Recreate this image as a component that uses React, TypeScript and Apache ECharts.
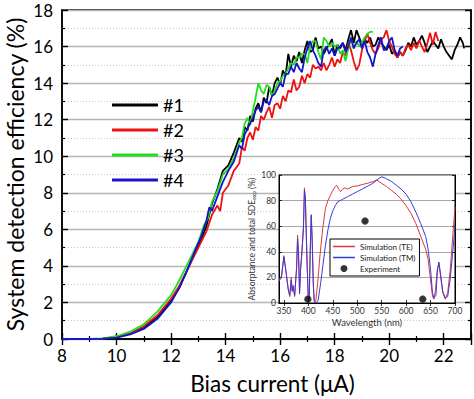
import React, { useEffect, useRef } from "react";
import * as echarts from "echarts";

// ---- Main chart data: bias current (µA) vs system detection efficiency (%) ----
const bias1 = [8, 8.5, 9, 9.5, 10, 10.5, 11, 11.5, 12, 12.3, 12.6, 12.9, 13.1, 13.3, 13.5, 13.7, 13.9, 14.1, 14.3, 14.5, 14.6, 14.7, 14.8, 14.9, 15.0, 15.1, 15.2, 15.3, 15.4, 15.5, 15.6, 15.7, 15.8, 15.9, 16.0, 16.1, 16.2, 16.3, 16.4, 16.5, 16.6, 16.7, 16.8, 16.9, 17.0, 17.1, 17.2, 17.3, 17.4, 17.5, 17.6, 17.7, 17.8, 17.9, 18.0, 18.1, 18.2, 18.3, 18.4, 18.5, 18.6, 18.7, 18.8, 18.9, 19.0, 19.1, 19.2, 19.3, 19.4, 19.5, 19.6, 19.7, 19.8, 19.9, 20.0, 20.1, 20.2, 20.3, 20.4, 20.5, 20.6, 20.7, 20.8, 20.9, 21.0, 21.1, 21.2, 21.3, 21.4, 21.5, 21.6, 21.7, 21.8, 21.9, 22.0, 22.1, 22.2, 22.3, 22.4, 22.5, 22.6, 22.7, 22.75];
const sde1 = [0, 0, 0, 0.02, 0.1, 0.3, 0.6, 1.2, 2.1, 2.8, 3.8, 4.8, 5.4, 6.2, 7.4, 8.2, 9.2, 9.5, 10.2, 11.0, 10.8, 11.6, 11.4, 12.2, 11.9, 12.6, 12.9, 12.4, 13.2, 12.9, 13.8, 13.3, 14.0, 14.3, 13.9, 14.7, 14.4, 15.6, 14.9, 15.5, 15.2, 15.7, 15.1, 15.8, 16.3, 15.7, 15.8, 16.5, 15.9, 16.0, 15.6, 15.9, 16.1, 16.4, 15.5, 16.1, 15.9, 16.2, 15.8, 16.4, 16.9, 16.2, 16.9, 16.5, 16.1, 16.4, 16.2, 16.5, 16.0, 16.1, 16.5, 16.2, 16.0, 15.8, 16.1, 15.6, 15.8, 15.4, 15.7, 15.5, 15.8, 16.2, 16.0, 16.5, 16.1, 16.3, 16.6, 16.2, 15.7, 16.0, 16.3, 16.1, 15.9, 16.4, 16.0, 15.7, 15.5, 15.3, 15.8, 16.1, 16.5, 16.2, 15.9];

const bias2 = [8, 9, 9.5, 10, 10.5, 11, 11.5, 12, 12.3, 12.6, 12.9, 13.1, 13.3, 13.5, 13.7, 13.8, 13.9, 14.1, 14.3, 14.5, 14.6, 14.7, 14.8, 14.9, 15.0, 15.1, 15.2, 15.3, 15.4, 15.5, 15.6, 15.7, 15.8, 15.9, 16.0, 16.1, 16.2, 16.3, 16.4, 16.5, 16.6, 16.7, 16.8, 16.9, 17.0, 17.1, 17.2, 17.3, 17.4, 17.5, 17.6, 17.7, 17.8, 17.9, 18.0, 18.1, 18.2, 18.3, 18.4, 18.5, 18.6, 18.7, 18.8, 18.9, 19.0, 19.1, 19.2, 19.3, 19.4, 19.5, 19.6, 19.7, 19.8, 19.9, 20.0, 20.1, 20.2, 20.3, 20.4, 20.5, 20.6, 20.7, 20.8, 20.9, 21.0, 21.1, 21.2, 21.3, 21.4, 21.5, 21.6, 21.7, 21.8];
const sde2 = [0, 0, 0.02, 0.1, 0.3, 0.7, 1.3, 2.2, 2.9, 3.8, 4.7, 5.3, 5.9, 6.8, 7.3, 7.0, 8.0, 8.4, 9.2, 9.6, 10.5, 10.3, 11.0, 11.3, 10.9, 11.6, 11.4, 12.2, 12.0, 12.4, 12.7, 12.1, 12.8, 12.9, 12.6, 13.3, 13.0, 13.6, 13.5, 14.2, 13.6, 13.8, 14.4, 14.0, 14.5, 14.3, 15.0, 14.8, 14.9, 14.7, 15.1, 14.7, 15.0, 15.4, 14.9, 15.3, 15.1, 15.7, 15.5, 16.2, 15.8, 15.2, 14.7, 15.0, 15.8, 16.3, 16.7, 16.2, 15.8, 15.6, 15.9, 16.4, 16.5, 16.9, 16.3, 16.0, 15.6, 15.4, 15.7, 15.5, 15.9, 16.1, 15.8, 16.2, 15.9, 16.35, 16.0, 15.7, 16.2, 16.75, 16.1, 16.8, 16.3];

const bias3 = [8, 9, 9.5, 10, 10.5, 11, 11.5, 12, 12.3, 12.6, 12.8, 13.0, 13.2, 13.35, 13.5, 13.7, 13.9, 14.1, 14.3, 14.5, 14.6, 14.7, 14.8, 14.9, 15.0, 15.1, 15.2, 15.3, 15.4, 15.5, 15.6, 15.7, 15.8, 15.9, 16.0, 16.1, 16.2, 16.3, 16.4, 16.5, 16.6, 16.7, 16.8, 16.9, 17.0, 17.1, 17.2, 17.3, 17.4, 17.5, 17.6, 17.7, 17.8, 17.9, 18.0, 18.1, 18.2, 18.3, 18.4, 18.5, 18.6, 18.7, 18.8, 18.9, 19.0, 19.1, 19.2, 19.3, 19.4];
const sde3 = [0, 0, 0.03, 0.15, 0.4, 0.8, 1.5, 2.4, 3.2, 4.1, 4.7, 5.3, 6.2, 6.6, 7.5, 8.1, 9.0, 9.3, 9.9, 10.7, 11.0, 11.8, 12.1, 11.7, 12.5, 13.2, 14.0, 13.6, 13.4, 13.9, 13.8, 13.3, 13.6, 14.0, 14.1, 14.4, 14.5, 14.8, 15.1, 15.0, 15.4, 15.4, 15.6, 15.6, 15.1, 16.0, 16.3, 16.3, 15.7, 15.3, 16.5, 16.3, 16.0, 16.2, 16.0, 16.1, 15.6, 15.8, 15.2, 15.9, 16.4, 15.9, 16.3, 16.0, 16.2, 16.5, 16.7, 16.8, 16.8];

const bias4 = [8, 9, 9.5, 10, 10.5, 11, 11.5, 12, 12.3, 12.6, 12.9, 13.1, 13.3, 13.4, 13.5, 13.7, 13.9, 14.1, 14.3, 14.5, 14.6, 14.7, 14.8, 14.9, 15.0, 15.1, 15.2, 15.3, 15.4, 15.5, 15.6, 15.7, 15.8, 15.9, 16.0, 16.1, 16.2, 16.3, 16.4, 16.5, 16.6, 16.7, 16.8, 16.9, 17.0, 17.1, 17.2, 17.3, 17.4, 17.5, 17.6, 17.7, 17.8, 17.9, 18.0, 18.1, 18.2, 18.3, 18.4, 18.5, 18.6, 18.7, 18.8, 18.9, 19.0, 19.1, 19.2, 19.3, 19.4, 19.5, 19.6, 19.7, 19.8, 19.9, 20.0, 20.1, 20.2, 20.3, 20.4, 20.5];
const sde4 = [0, 0, 0.02, 0.08, 0.25, 0.55, 1.1, 2.0, 2.8, 3.8, 4.9, 5.6, 6.5, 7.2, 7.0, 7.8, 8.6, 9.2, 9.7, 10.6, 10.4, 11.2, 11.5, 11.8, 12.1, 12.5, 12.7, 12.4, 13.0, 13.1, 12.8, 13.3, 13.4, 13.7, 14.0, 13.8, 14.5, 14.5, 14.9, 14.6, 15.1, 14.8, 14.6, 15.4, 15.9, 16.3, 15.8, 15.5, 15.1, 14.9, 15.8, 16.0, 15.6, 15.9, 15.5, 15.9, 16.0, 16.2, 15.7, 16.0, 16.5, 15.9, 16.2, 16.4, 15.9, 16.3, 15.7, 15.4, 14.9, 15.6, 16.1, 16.5, 15.8, 15.9, 16.3, 16.5, 15.8, 15.5, 15.9, 16.0];

const mainNames = ["#1", "#2", "#3", "#4"];
const mainColors = ["#000000", "#ee1111", "#22dd22", "#1515cc"];

const xTickMain = { min: 8, max: 23, interval: 2 };
const yTickMain = { min: 0, max: 18, interval: 2 };

// ---- Inset data: wavelength (nm) vs absorptance (%) ----
const wlTE = [340, 345, 350, 354, 359, 362, 365, 367, 369, 372, 376, 378, 380, 382, 384, 387, 390, 392, 394, 396, 398, 400, 402, 404, 406, 408, 410, 412, 415, 419, 424, 430, 435, 440, 445, 450, 455, 458, 462, 466, 470, 475, 480, 485, 490, 500, 510, 520, 530, 540, 550, 560, 570, 580, 590, 600, 610, 620, 630, 640, 645, 650, 654, 657, 660, 664, 667, 670, 675, 680, 685, 690, 695, 700];
const absTE = [18, 21, 37, 26, 11, 5, 20, 10, 14, 5, 28, 53, 39, 8, 26, 41, 60, 90, 80, 52, 26, 3, 5, 44, 68, 49, 18, 2, 1, 15, 38, 60, 74, 80, 84, 88, 91, 92, 89, 87, 89, 90, 89, 90, 91, 91.5, 92.5, 93.5, 94.5, 96, 93.5, 91, 88, 85, 81, 76, 70, 62, 52, 42, 34, 18, 5, 3, 10, 27, 31, 22, 8, 3, 8, 25, 50, 75];
const wlTM = [340, 345, 350, 354, 359, 362, 365, 367, 369, 372, 376, 378, 380, 382, 384, 387, 390, 392, 394, 396, 398, 400, 402, 404, 406, 408, 410, 412, 416, 420, 425, 430, 435, 440, 445, 450, 455, 460, 465, 470, 480, 490, 500, 510, 520, 530, 540, 545, 550, 555, 560, 570, 580, 590, 600, 610, 620, 630, 640, 645, 650, 654, 657, 661, 664, 667, 670, 675, 680, 685, 690, 695, 700];
const absTM = [17, 20, 36, 25, 10, 6, 18, 9, 13, 6, 27, 50, 37, 7, 25, 40, 58, 88, 82, 50, 24, 2, 6, 42, 69, 47, 15, 1, 0, 2, 15, 30, 45, 57, 66, 72, 76, 79, 80, 81, 83, 85, 87, 89, 91, 93, 96, 97.5, 98.5, 98, 97, 95, 92, 89, 85, 79, 71, 62, 52, 42, 26, 8, 4, 6, 25, 32, 24, 9, 4, 5, 18, 38, 60];
const wlExp = [399, 516, 634];
const sdeExp = [3, 64, 3];

const insetXTicks = [350, 400, 450, 500, 550, 600, 650, 700];
const insetY = { min: 0, max: 100, interval: 20 };

const TE_COLOR = "#e03838";
const TM_COLOR = "#3a3ad8";
const FONT = "Lato, 'Open Sans', sans-serif";

// thin-line legend icons (tiny corner dots set the bounding box so the bar stays thin)
const mainLineIcon = "path://M0,0h0.01v0.01h-0.01z M0,5.5h46v3h-46z M0,14h0.01v0.01h-0.01z";
const insetLineIcon = "path://M0,0h0.01v0.01h-0.01z M0,2.75h22v1.5h-22z M0,7h0.01v0.01h-0.01z";

const zip = (xs: number[], ys: number[]) => xs.map((x, i) => [x, ys[i]]);

export default function App() {
  const ref = useRef<HTMLDivElement>(null);
  useEffect(() => {
    if (!ref.current) return;
    const chart = echarts.init(ref.current, null, { renderer: "svg" });
    const mainData = [zip(bias1, sde1), zip(bias2, sde2), zip(bias3, sde3), zip(bias4, sde4)];

    const mainTick = { show: true, inside: true, length: 6, lineStyle: { color: "#000", width: 1.4 } };
    const mainMinor = { show: true, splitNumber: 2, length: 3, lineStyle: { color: "#000", width: 1.2 } };
    const insetTick = { show: true, inside: true, length: 3, lineStyle: { color: "#000", width: 0.8 } };

    const option: any = {
      animation: false,
      backgroundColor: "#ffffff",
      textStyle: { fontFamily: FONT },
      grid: [
        { left: 62, top: 10, width: 409, height: 329, show: true, borderColor: "#000", borderWidth: 1.5, backgroundColor: "transparent", outerBoundsMode: "none", z: 0 },
        { left: 279, top: 175, width: 176, height: 128, show: true, borderColor: "#000", borderWidth: 1, backgroundColor: "#ffffff", outerBoundsMode: "none", z: 5 },
      ],
      legend: [
        {
          data: mainNames.map((n, i) => ({ name: n, icon: mainLineIcon, itemStyle: { color: mainColors[i], borderWidth: 0 } })),
          orient: "vertical", left: 112, top: 95, padding: 0, itemWidth: 46, itemHeight: 14, itemGap: 5,
          textStyle: { fontSize: 18, color: "#000", fontFamily: FONT, lineHeight: 20 },
          z: 10,
        },
        {
          data: [
            { name: "Simulation (TE)", icon: insetLineIcon, itemStyle: { color: TE_COLOR, borderWidth: 0 } },
            { name: "Simulation (TM)", icon: insetLineIcon, itemStyle: { color: TM_COLOR, borderWidth: 0 } },
            { name: "Experiment", icon: "circle", itemStyle: { color: "#000", borderWidth: 0 } },
          ],
          orient: "vertical", left: 330, top: 239,
          itemWidth: 22, itemHeight: 7, itemGap: 2, padding: [3, 4, 3, 3],
          borderColor: "#000", borderWidth: 1, backgroundColor: "#ffffff",
          textStyle: { fontSize: 8, color: "#222", fontFamily: FONT, lineHeight: 9 },
          z: 20,
        },
      ],
      xAxis: [
        {
          type: "value", gridIndex: 0, position: "bottom", ...xTickMain,
          axisLine: { show: true, lineStyle: { color: "#000", width: 1.5 } },
          axisTick: mainTick, minorTick: mainMinor,
          axisLabel: { fontSize: 17, color: "#000", margin: 8, showMaxLabel: false, fontFamily: FONT },
          splitLine: { show: false },
          name: "Bias current (μA)", nameLocation: "middle", nameGap: 33, nameMoveOverlap: false,
          nameTextStyle: { fontSize: 22.5, color: "#000", fontFamily: FONT, padding: [0, 0, 0, 12] },
        },
        {
          type: "value", gridIndex: 0, position: "top", ...xTickMain,
          axisLine: { show: true, lineStyle: { color: "#000", width: 1.5 } },
          axisTick: mainTick, minorTick: mainMinor,
          axisLabel: { show: false }, splitLine: { show: false },
        },
        {
          type: "value", gridIndex: 1, position: "bottom", min: 340, max: 700, z: 6,
          axisLine: { show: true, lineStyle: { color: "#000", width: 1 } },
          axisTick: { ...insetTick, customValues: insetXTicks },
          axisLabel: { fontSize: 8.5, color: "#333", margin: 3, customValues: insetXTicks, fontFamily: FONT },
          splitLine: { show: false },
          name: "Wavelength (nm)", nameLocation: "middle", nameGap: 14,
          nameTextStyle: { fontSize: 9.5, color: "#333", fontFamily: FONT },
        },
        {
          type: "value", gridIndex: 1, position: "top", min: 340, max: 700, z: 6,
          axisLine: { show: true, lineStyle: { color: "#000", width: 1 } },
          axisTick: { ...insetTick, customValues: insetXTicks },
          axisLabel: { show: false }, splitLine: { show: false },
        },
      ],
      yAxis: [
        {
          type: "value", gridIndex: 0, position: "left", ...yTickMain,
          axisLine: { show: true, lineStyle: { color: "#000", width: 1.5 } },
          axisTick: mainTick, minorTick: mainMinor,
          axisLabel: { fontSize: 17, color: "#000", margin: 9, fontFamily: FONT },
          splitLine: { show: true, lineStyle: { color: "#b5b5b5", width: 1.3 } },
          minorSplitLine: { show: true, lineStyle: { color: "#c8c8c8", width: 1, type: [1, 2] } },
          name: "System detection efficiency (%)", nameLocation: "middle", nameGap: 35, nameMoveOverlap: false,
          nameTextStyle: { fontSize: 23, lineHeight: 24, color: "#000", fontFamily: FONT },
        },
        {
          type: "value", gridIndex: 0, position: "right", ...yTickMain,
          axisLine: { show: true, lineStyle: { color: "#000", width: 1.5 } },
          axisTick: mainTick, minorTick: mainMinor,
          axisLabel: { show: false }, splitLine: { show: false },
        },
        {
          type: "value", gridIndex: 1, position: "left", ...insetY, z: 6,
          axisLine: { show: true, lineStyle: { color: "#000", width: 1 } },
          axisTick: insetTick,
          axisLabel: { fontSize: 8.5, color: "#333", margin: 3, fontFamily: FONT },
          splitLine: { show: true, lineStyle: { color: "#a8a8a8", width: 1 } },
          name: "{a|Absorptance and total SDE}{s|exp}{a| (%)}", nameLocation: "middle", nameGap: 21,
          nameTextStyle: {
            color: "#333", fontFamily: FONT,
            rich: { a: { fontSize: 8.5, color: "#333", fontFamily: FONT }, s: { fontSize: 5.5, color: "#333", fontFamily: FONT, verticalAlign: "bottom", padding: [4, 0, 0, 0] } },
          },
        },
        {
          type: "value", gridIndex: 1, position: "right", ...insetY, z: 6,
          axisLine: { show: true, lineStyle: { color: "#000", width: 1 } },
          axisTick: insetTick,
          axisLabel: { show: false }, splitLine: { show: false },
        },
      ],
      series: [
        ...mainNames.map((n, i) => ({
          name: n, type: "line", xAxisIndex: 0, yAxisIndex: 0, data: mainData[i],
          showSymbol: false, symbol: "none", z: 2,
          lineStyle: { color: mainColors[i], width: 1.8 }, itemStyle: { color: mainColors[i] },
        })),
        {
          name: "Simulation (TE)", type: "line", xAxisIndex: 2, yAxisIndex: 2, data: zip(wlTE, absTE),
          showSymbol: false, symbol: "none", z: 7,
          lineStyle: { color: TE_COLOR, width: 1 }, itemStyle: { color: TE_COLOR },
        },
        {
          name: "Simulation (TM)", type: "line", xAxisIndex: 2, yAxisIndex: 2, data: zip(wlTM, absTM),
          showSymbol: false, symbol: "none", z: 7,
          lineStyle: { color: TM_COLOR, width: 1 }, itemStyle: { color: TM_COLOR },
        },
        {
          name: "Experiment", type: "scatter", xAxisIndex: 2, yAxisIndex: 2, data: zip(wlExp, sdeExp),
          symbolSize: 7, z: 8, itemStyle: { color: "#000", borderColor: "#555", borderWidth: 0.5 },
        },
      ],
    };
    chart.setOption(option);
    return () => chart.dispose();
  }, []);
  return (
    <div
      ref={ref}
      style={{ position: "fixed", left: 0, top: 0, width: 474, height: 399, background: "#fff" }}
    />
  );
}
